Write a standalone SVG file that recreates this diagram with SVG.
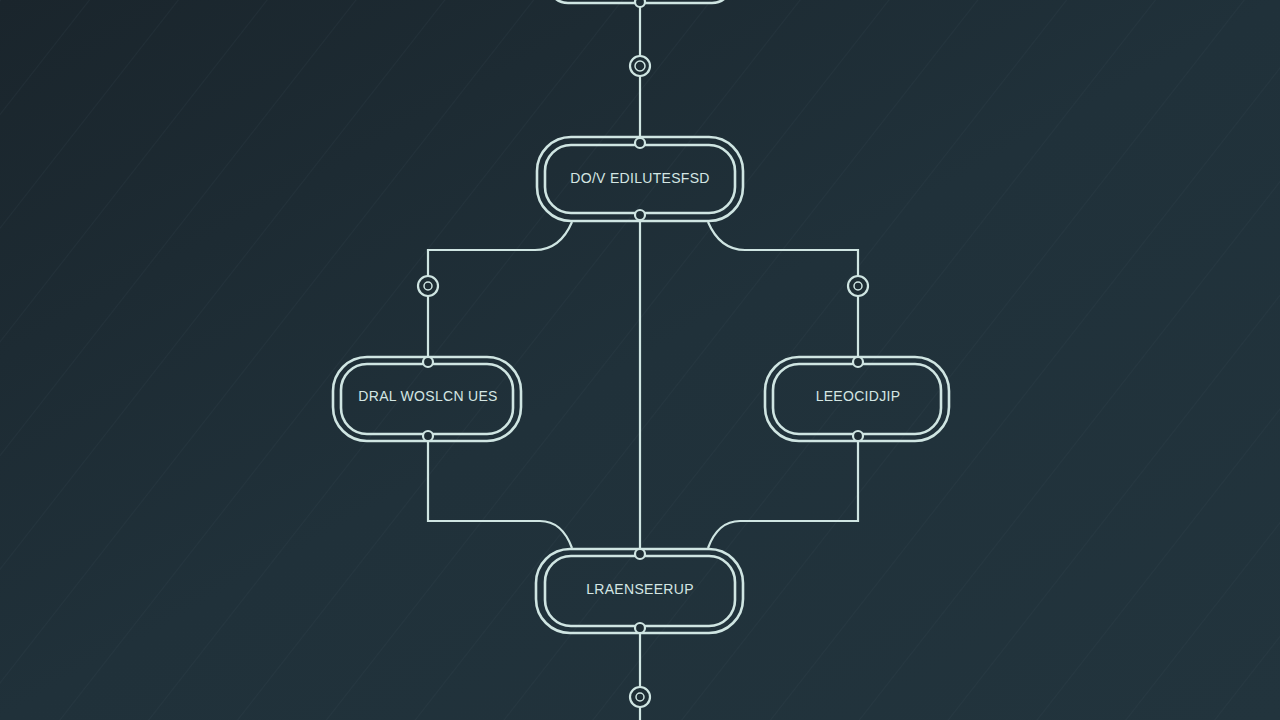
<svg xmlns="http://www.w3.org/2000/svg" width="1280" height="720" viewBox="0 0 1280 720">
<defs>
<linearGradient id="bg" x1="0" y1="0" x2="1" y2="1">
<stop offset="0" stop-color="#1a252c"/>
<stop offset="0.5" stop-color="#20313a"/>
<stop offset="1" stop-color="#22343d"/>
</linearGradient>
<pattern id="streaks" width="70" height="70" patternUnits="userSpaceOnUse" patternTransform="rotate(-52)">
<line x1="0" y1="0" x2="70" y2="0" stroke="#3a4e58" stroke-width="1.2" opacity="0.35"/>
</pattern>
<style>
.ln{fill:none;stroke:#cfe5e2;stroke-width:2.2}
.box{fill:none;stroke:#cfe5e2;stroke-width:2.6}
.dot{fill:#1e2d34;stroke:#cfe5e2;stroke-width:2.2}
.ring{fill:none;stroke:#cfe5e2;stroke-width:1.5}
.lbl{font-family:"Liberation Sans",Arial,sans-serif;font-size:14px;fill:#d4e6e3;text-anchor:middle;letter-spacing:0.3px}
</style>
</defs>
<rect width="1280" height="720" fill="url(#bg)"/>
<rect width="1280" height="720" fill="url(#streaks)"/>
<g id="connectors">
<line class="ln" x1="640" y1="4" x2="640" y2="143"/>
<line class="ln" x1="640" y1="215" x2="640" y2="554"/>
<line class="ln" x1="640" y1="628" x2="640" y2="720"/>
<path class="ln" d="M572,222 Q560,250 535,250 L428,250 L428,362"/>
<path class="ln" d="M708,222 Q720,250 745,250 L858,250 L858,362"/>
<path class="ln" d="M428,436 L428,521 L540,521 Q562,521 572,548"/>
<path class="ln" d="M858,436 L858,521 L740,521 Q718,521 708,548"/>
<circle class="dot" cx="640" cy="66" r="10"/><circle class="ring" cx="640" cy="66" r="5"/>
<circle class="dot" cx="428" cy="286" r="10"/><circle class="ring" cx="428" cy="286" r="4"/>
<circle class="dot" cx="858" cy="286" r="10"/><circle class="ring" cx="858" cy="286" r="4"/>
<circle class="dot" cx="640" cy="697" r="10"/><circle class="ring" cx="640" cy="697" r="4"/>
</g>
<g id="node-top">
<rect class="box" x="548" y="-40" width="184" height="43" rx="20"/>
<circle class="dot" cx="640" cy="2" r="5"/>
</g>
<g id="node-1">
<rect class="box" x="537" y="137" width="206" height="84" rx="34"/>
<rect class="box" x="545" y="145" width="190" height="68" rx="26"/>
<text class="lbl" x="640" y="183">DO/V EDILUTESFSD</text>
<circle class="dot" cx="640" cy="143" r="5"/>
<circle class="dot" cx="640" cy="215" r="5"/>
</g>
<g id="node-left">
<rect class="box" x="333" y="357" width="188" height="84" rx="34"/>
<rect class="box" x="341" y="364" width="172" height="70" rx="26"/>
<text class="lbl" x="428" y="401">DRAL WOSLCN UES</text>
<circle class="dot" cx="428" cy="362" r="5"/>
<circle class="dot" cx="428" cy="436" r="5"/>
</g>
<g id="node-right">
<rect class="box" x="765" y="357" width="184" height="84" rx="34"/>
<rect class="box" x="773" y="364" width="168" height="70" rx="26"/>
<text class="lbl" x="858" y="401">LEEOCIDJIP</text>
<circle class="dot" cx="858" cy="362" r="5"/>
<circle class="dot" cx="858" cy="436" r="5"/>
</g>
<g id="node-bottom">
<rect class="box" x="536" y="549" width="207" height="84" rx="34"/>
<rect class="box" x="545" y="556" width="190" height="70" rx="26"/>
<text class="lbl" x="640" y="594">LRAENSEERUP</text>
<circle class="dot" cx="640" cy="554" r="5"/>
<circle class="dot" cx="640" cy="628" r="5"/>
</g>
</svg>
